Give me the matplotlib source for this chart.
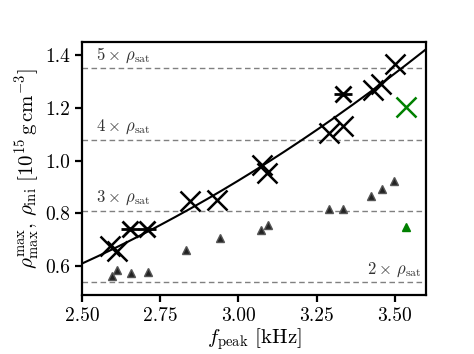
import numpy as np
import matplotlib
matplotlib.use("Agg")
import matplotlib.pyplot as plt

plt.rcParams['font.family'] = 'serif'
plt.rcParams['font.serif'] = ['cmr10', 'DejaVu Serif']
plt.rcParams['mathtext.fontset'] = 'cm'
plt.rcParams['axes.formatter.use_mathtext'] = True

# rho_max^max (crosses), in 1e15 g/cm^3
f_cross = [2.589, 2.611, 2.845, 2.932, 3.074, 3.090, 3.290, 3.335, 3.429, 3.457, 3.500]
rho_cross = [0.675, 0.656, 0.846, 0.852, 0.982, 0.954, 1.106, 1.131, 1.267, 1.290, 1.366]
# overlapping points drawn as asterisks
f_star = [2.653, 2.709, 3.333]
rho_star = [0.740, 0.741, 1.252]
# rho_ini (triangles)
f_tri = [2.595, 2.613, 2.657, 2.712, 2.832, 2.941, 3.072, 3.093, 3.289, 3.333, 3.425, 3.460, 3.498]
rho_tri = [0.563, 0.584, 0.574, 0.576, 0.659, 0.707, 0.738, 0.754, 0.818, 0.817, 0.865, 0.894, 0.922]
# outlier model (green)
f_green = [3.537]
rho_green_max = [1.205]
rho_green_ini = [0.749]

# quadratic fit: rho = a + b*(f - 2.5) + c*(f - 2.5)^2
fit_a, fit_b, fit_c = 0.609, 0.539, 0.183

rho_sat = 0.27
multiples = [2, 3, 4, 5]

fig = plt.figure(figsize=(4.74, 3.54), dpi=100)
ax = fig.add_axes([0.173, 0.167, 0.726, 0.714])

for n in multiples:
    ax.axhline(n * rho_sat, color='gray', ls='--', lw=1.0, dashes=(4, 2.5), zorder=1)
    if n == 2:
        ax.text(3.585, n * rho_sat + 0.012, r'$%d\times\,\rho_{\rm sat}$' % n,
                ha='right', va='bottom', fontsize=12, color='#333333')
    else:
        ax.text(2.545, n * rho_sat + 0.012, r'$%d\times\,\rho_{\rm sat}$' % n,
                ha='left', va='bottom', fontsize=12, color='#333333')

xx = np.linspace(2.5, 3.6, 200)
ax.plot(xx, fit_a + fit_b * (xx - 2.5) + fit_c * (xx - 2.5) ** 2, color='k', lw=1.5, zorder=2)

ax.plot(f_cross, rho_cross, 'x', color='k', ms=14, mew=1.8, zorder=3)
ax.plot(f_star, rho_star, 'x', color='k', ms=12, mew=2.0, zorder=3)
ax.plot(f_star, rho_star, '_', color='k', ms=13, mew=2.0, zorder=3)
ax.plot(f_tri, rho_tri, '^', color='#222222', mec='#555555', ms=6, zorder=3)
ax.plot(f_green, rho_green_max, 'x', color='green', ms=14, mew=1.8, zorder=3)
ax.plot(f_green, rho_green_ini, '^', color='green', ms=6, zorder=3)

ax.set_xlim(2.5, 3.6)
ax.set_ylim(0.49, 1.45)
ax.set_xticks([2.5, 2.75, 3.0, 3.25, 3.5])
ax.set_xticklabels(['2.50', '2.75', '3.00', '3.25', '3.50'])
ax.set_yticks([0.6, 0.8, 1.0, 1.2, 1.4])
ax.set_yticklabels(['0.6', '0.8', '1.0', '1.2', '1.4'])
ax.tick_params(labelsize=14, width=1.6, length=5, direction='out')
for s in ax.spines.values():
    s.set_linewidth(1.6)

ax.set_xlabel(r'$f_{\rm peak}$ [kHz]', fontsize=15, labelpad=1)
ax.set_ylabel(r'$\rho_{\rm max}^{\rm max},\,\rho_{\rm ini}\ [10^{15}\,{\rm g\,cm^{-3}}]$',
              fontsize=15, labelpad=2)

fig.savefig('out.png', dpi=100)
